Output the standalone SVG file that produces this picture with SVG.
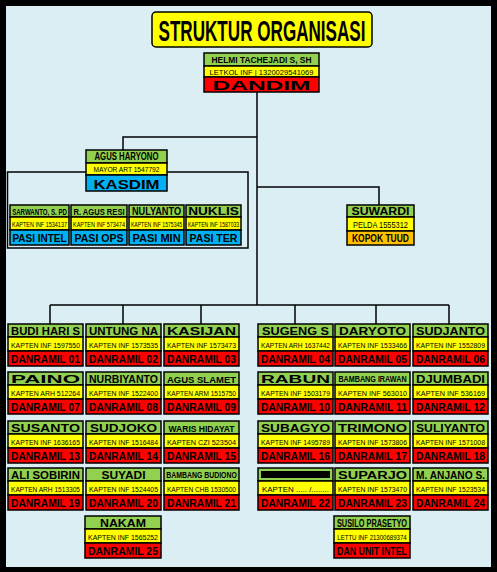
<svg xmlns="http://www.w3.org/2000/svg" width="497" height="572" viewBox="0 0 497 572">
<style>
.bg{fill:#000}
.in{fill:#dbeef4}
.c{fill:#92d050;stroke:#000;stroke-width:1.5}
.y{fill:#ffff00;stroke:#000;stroke-width:1.5}
.r{fill:#ff0000;stroke:#000;stroke-width:1.5}
.b{fill:#00b0f0;stroke:#000;stroke-width:1.5}
.o{fill:#ffc000;stroke:#000;stroke-width:1.5}
.ln{fill:none;stroke:#000;stroke-width:1.5}
text{font-family:"Liberation Sans",Arial,sans-serif;fill:#000;text-anchor:middle}
.n{font-size:10px;font-weight:bold}
.k{font-size:7.5px}
.p{font-size:11px;font-weight:bold}
.t{font-size:30px;font-weight:bold}
</style>
<rect class="bg" x="0" y="0" width="497" height="572"/>
<rect class="in" x="6" y="6" width="485" height="561"/>

<g id="connectors">
<path class="ln" d="M257 92 V305 M257 137 H123 V150 M257 187 H379 V205 M50 305 H449 M50 305 V324 M123 305 V324 M201 305 V324 M295 305 V324 M376 305 V324 M449 305 V324"/>
<rect class="ln" x="7.5" y="172" width="240.5" height="76"/>
</g>

<g id="title">
<rect x="152" y="12" width="220" height="35" rx="4" fill="#ffff00" stroke="#000" stroke-width="1.5"/>
<text class="t" x="0" y="0" transform="translate(262,41) scale(0.57,1)">STRUKTUR ORGANISASI</text>
</g>

<g id="dandim">
<rect class="c" x="204" y="53" width="115" height="13"/>
<rect class="y" x="204" y="66" width="115" height="11"/>
<rect class="r" x="204" y="77" width="115" height="15"/>
<text class="n" x="261.5" y="63" style="font-size:9px" textLength="100" lengthAdjust="spacingAndGlyphs">HELMI TACHEJADI S, SH</text>
<text class="k" x="261.5" y="75" style="font-size:8px" textLength="104" lengthAdjust="spacingAndGlyphs">LETKOL INF | 1320029541069</text>
<text class="p" x="261.5" y="89.5" style="font-size:13px" textLength="98" lengthAdjust="spacingAndGlyphs">DANDIM</text>
</g>

<g id="kasdim">
<rect class="c" x="86" y="150" width="81" height="13"/>
<rect class="y" x="86" y="163" width="81" height="12"/>
<rect class="b" x="86" y="175" width="81" height="16"/>
<text class="n" x="126.5" y="160" textLength="64" lengthAdjust="spacingAndGlyphs">AGUS HARYONO</text>
<text class="k" x="126.5" y="172" style="font-size:7px" textLength="66" lengthAdjust="spacingAndGlyphs">MAYOR ART 1547792</text>
<text class="p" x="126.5" y="188.5" style="font-size:13px" textLength="66" lengthAdjust="spacingAndGlyphs">KASDIM</text>
</g>

<g id="pasi-intel">
<rect class="c" x="10" y="205" width="59" height="12"/>
<rect class="y" x="10" y="217" width="59" height="13"/>
<rect class="b" x="10" y="230" width="59" height="15"/>
<text class="n" x="0" y="0" style="font-size:8.5px" transform="translate(39.5,214.5) scale(0.72,1)">SARWANTO, S. PD</text>
<text class="k" x="0" y="0" transform="translate(39.5,226.5) scale(0.73,1)">KAPTEN INF 1534137</text>
<text class="p" x="0" y="0" style="font-size:11.5px" transform="translate(39.5,242) scale(0.87,1)">PASI INTEL</text>
</g>
<g id="pasi-ops">
<rect class="c" x="71" y="205" width="56" height="12"/>
<rect class="y" x="71" y="217" width="56" height="13"/>
<rect class="b" x="71" y="230" width="56" height="15"/>
<text class="n" x="0" y="0" style="font-size:9.5px" transform="translate(99,214.5) scale(0.8,1)">R. AGUS RESI</text>
<text class="k" x="0" y="0" transform="translate(99,226.5) scale(0.73,1)">KAPTEN INF 573474</text>
<text class="p" x="0" y="0" style="font-size:11.5px" transform="translate(99,242) scale(0.92,1)">PASI OPS</text>
</g>
<g id="pasi-min">
<rect class="c" x="129" y="205" width="55" height="12"/>
<rect class="y" x="129" y="217" width="55" height="13"/>
<rect class="b" x="129" y="230" width="55" height="15"/>
<text class="n" x="0" y="0" transform="translate(156.5,215) scale(0.92,1)">NULYANTO</text>
<text class="k" x="0" y="0" transform="translate(156.5,226.5) scale(0.68,1)">KAPTEN INF 1575345</text>
<text class="p" x="0" y="0" style="font-size:11.5px" transform="translate(156.5,242) scale(0.96,1)">PASI MIN</text>
</g>
<g id="pasi-ter">
<rect class="c" x="186" y="205" width="55" height="12"/>
<rect class="y" x="186" y="217" width="55" height="13"/>
<rect class="b" x="186" y="230" width="55" height="15"/>
<text class="n" x="0" y="0" style="font-size:10.5px" transform="translate(213.5,215) scale(1.3,1)">NUKLIS</text>
<text class="k" x="0" y="0" transform="translate(213.5,226.5) scale(0.68,1)">KAPTEN INF 1587033</text>
<text class="p" x="0" y="0" style="font-size:11.5px" transform="translate(213.5,242) scale(0.92,1)">PASI TER</text>
</g>

<g id="suwardi">
<rect class="c" x="347" y="205" width="67" height="12"/>
<rect class="y" x="347" y="217" width="67" height="14"/>
<rect class="o" x="347" y="231" width="67" height="14"/>
<text class="n" x="380.5" y="215" textLength="58" lengthAdjust="spacingAndGlyphs">SUWARDI</text>
<text class="k" x="380.5" y="227.5" style="font-size:8.5px" textLength="55" lengthAdjust="spacingAndGlyphs">PELDA 1555312</text>
<text class="p" x="380.5" y="242" style="font-size:10px" textLength="57" lengthAdjust="spacingAndGlyphs">KOPOK TUUD</text>
</g>

<!-- Row 1 -->
<g id="danramil-01">
<rect class="c" x="8" y="324" width="75" height="13"/><rect class="y" x="8" y="337" width="75" height="14"/><rect class="r" x="8" y="351" width="75" height="15"/>
<text class="n" x="45.5" y="334.5" textLength="69" lengthAdjust="spacingAndGlyphs">BUDI HARI S</text>
<text class="k" x="45.5" y="347.5" textLength="69" lengthAdjust="spacingAndGlyphs">KAPTEN INF 1597550</text>
<text class="p" x="45.5" y="363" textLength="69" lengthAdjust="spacingAndGlyphs">DANRAMIL 01</text>
</g>
<g id="danramil-02">
<rect class="c" x="86" y="324" width="75" height="13"/><rect class="y" x="86" y="337" width="75" height="14"/><rect class="r" x="86" y="351" width="75" height="15"/>
<text class="n" x="123.5" y="334.5" textLength="69" lengthAdjust="spacingAndGlyphs">UNTUNG NA</text>
<text class="k" x="123.5" y="347.5" textLength="69" lengthAdjust="spacingAndGlyphs">KAPTEN INF 1573535</text>
<text class="p" x="123.5" y="363" textLength="69" lengthAdjust="spacingAndGlyphs">DANRAMIL 02</text>
</g>
<g id="danramil-03">
<rect class="c" x="164" y="324" width="75" height="13"/><rect class="y" x="164" y="337" width="75" height="14"/><rect class="r" x="164" y="351" width="75" height="15"/>
<text class="n" x="201.5" y="334.5" style="font-size:11px" textLength="69" lengthAdjust="spacingAndGlyphs">KASIJAN</text>
<text class="k" x="201.5" y="347.5" textLength="69" lengthAdjust="spacingAndGlyphs">KAPTEN INF 1573473</text>
<text class="p" x="201.5" y="363" textLength="69" lengthAdjust="spacingAndGlyphs">DANRAMIL 03</text>
</g>
<g id="danramil-04">
<rect class="c" x="258" y="324" width="75" height="13"/><rect class="y" x="258" y="337" width="75" height="14"/><rect class="r" x="258" y="351" width="75" height="15"/>
<text class="n" x="295.5" y="334.5" textLength="67" lengthAdjust="spacingAndGlyphs">SUGENG S</text>
<text class="k" x="295.5" y="347.5" textLength="69" lengthAdjust="spacingAndGlyphs">KAPTEN ARH 1637442</text>
<text class="p" x="295.5" y="363" textLength="69" lengthAdjust="spacingAndGlyphs">DANRAMIL 04</text>
</g>
<g id="danramil-05">
<rect class="c" x="335" y="324" width="75" height="13"/><rect class="y" x="335" y="337" width="75" height="14"/><rect class="r" x="335" y="351" width="75" height="15"/>
<text class="n" x="372.5" y="334.5" textLength="67" lengthAdjust="spacingAndGlyphs">DARYOTO</text>
<text class="k" x="372.5" y="347.5" textLength="69" lengthAdjust="spacingAndGlyphs">KAPTEN INF 1533466</text>
<text class="p" x="372.5" y="363" textLength="69" lengthAdjust="spacingAndGlyphs">DANRAMIL 05</text>
</g>
<g id="danramil-06">
<rect class="c" x="413" y="324" width="75" height="13"/><rect class="y" x="413" y="337" width="75" height="14"/><rect class="r" x="413" y="351" width="75" height="15"/>
<text class="n" x="450.5" y="334.5" textLength="69" lengthAdjust="spacingAndGlyphs">SUDJANTO</text>
<text class="k" x="450.5" y="347.5" textLength="69" lengthAdjust="spacingAndGlyphs">KAPTEN INF 1552809</text>
<text class="p" x="450.5" y="363" textLength="69" lengthAdjust="spacingAndGlyphs">DANRAMIL 06</text>
</g>

<!-- Row 2 -->
<g id="danramil-07">
<rect class="c" x="8" y="372" width="75" height="13"/><rect class="y" x="8" y="385" width="75" height="14"/><rect class="r" x="8" y="399" width="75" height="15"/>
<text class="n" x="45.5" y="382.5" style="font-size:11px" textLength="69" lengthAdjust="spacingAndGlyphs">PAINO</text>
<text class="k" x="45.5" y="395.5" textLength="69" lengthAdjust="spacingAndGlyphs">KAPTEN ARH 512264</text>
<text class="p" x="45.5" y="411" textLength="69" lengthAdjust="spacingAndGlyphs">DANRAMIL 07</text>
</g>
<g id="danramil-08">
<rect class="c" x="86" y="372" width="75" height="13"/><rect class="y" x="86" y="385" width="75" height="14"/><rect class="r" x="86" y="399" width="75" height="15"/>
<text class="n" x="123.5" y="382.5" textLength="69" lengthAdjust="spacingAndGlyphs">NURBIYANTO</text>
<text class="k" x="123.5" y="395.5" textLength="69" lengthAdjust="spacingAndGlyphs">KAPTEN INF 1522400</text>
<text class="p" x="123.5" y="411" textLength="69" lengthAdjust="spacingAndGlyphs">DANRAMIL 08</text>
</g>
<g id="danramil-09">
<rect class="c" x="164" y="372" width="75" height="13"/><rect class="y" x="164" y="385" width="75" height="14"/><rect class="r" x="164" y="399" width="75" height="15"/>
<text class="n" x="201.5" y="382.5" style="font-size:9.5px" textLength="69" lengthAdjust="spacingAndGlyphs">AGUS SLAMET</text>
<text class="k" x="201.5" y="395.5" textLength="69" lengthAdjust="spacingAndGlyphs">KAPTEN ARM 1515750</text>
<text class="p" x="201.5" y="411" textLength="69" lengthAdjust="spacingAndGlyphs">DANRAMIL 09</text>
</g>
<g id="danramil-10">
<rect class="c" x="258" y="372" width="75" height="13"/><rect class="y" x="258" y="385" width="75" height="14"/><rect class="r" x="258" y="399" width="75" height="15"/>
<text class="n" x="295.5" y="382.5" style="font-size:11px" textLength="69" lengthAdjust="spacingAndGlyphs">RABUN</text>
<text class="k" x="295.5" y="395.5" textLength="69" lengthAdjust="spacingAndGlyphs">KAPTEN INF 1503179</text>
<text class="p" x="295.5" y="411" textLength="69" lengthAdjust="spacingAndGlyphs">DANRAMIL 10</text>
</g>
<g id="danramil-11">
<rect class="c" x="335" y="372" width="75" height="13"/><rect class="y" x="335" y="385" width="75" height="14"/><rect class="r" x="335" y="399" width="75" height="15"/>
<text class="n" x="0" y="0" style="font-size:9px" transform="translate(372.5,382) scale(0.8,1)">BAMBANG IRAWAN</text>
<text class="k" x="372.5" y="395.5" textLength="69" lengthAdjust="spacingAndGlyphs">KAPTEN INF 563010</text>
<text class="p" x="372.5" y="411" textLength="69" lengthAdjust="spacingAndGlyphs">DANRAMIL 11</text>
</g>
<g id="danramil-12">
<rect class="c" x="413" y="372" width="75" height="13"/><rect class="y" x="413" y="385" width="75" height="14"/><rect class="r" x="413" y="399" width="75" height="15"/>
<text class="n" x="450.5" y="382.5" textLength="69" lengthAdjust="spacingAndGlyphs">DJUMBADI</text>
<text class="k" x="450.5" y="395.5" textLength="69" lengthAdjust="spacingAndGlyphs">KAPTEN INF 536169</text>
<text class="p" x="450.5" y="411" textLength="69" lengthAdjust="spacingAndGlyphs">DANRAMIL 12</text>
</g>

<!-- Row 3 -->
<g id="danramil-13">
<rect class="c" x="8" y="421" width="75" height="13"/><rect class="y" x="8" y="434" width="75" height="14"/><rect class="r" x="8" y="448" width="75" height="15"/>
<text class="n" x="45.5" y="431.5" textLength="69" lengthAdjust="spacingAndGlyphs">SUSANTO</text>
<text class="k" x="45.5" y="444.5" textLength="69" lengthAdjust="spacingAndGlyphs">KAPTEN INF 1636165</text>
<text class="p" x="45.5" y="460" textLength="69" lengthAdjust="spacingAndGlyphs">DANRAMIL 13</text>
</g>
<g id="danramil-14">
<rect class="c" x="86" y="421" width="75" height="13"/><rect class="y" x="86" y="434" width="75" height="14"/><rect class="r" x="86" y="448" width="75" height="15"/>
<text class="n" x="123.5" y="431.5" textLength="67" lengthAdjust="spacingAndGlyphs">SUDJOKO</text>
<text class="k" x="123.5" y="444.5" textLength="69" lengthAdjust="spacingAndGlyphs">KAPTEN INF 1516484</text>
<text class="p" x="123.5" y="460" textLength="69" lengthAdjust="spacingAndGlyphs">DANRAMIL 14</text>
</g>
<g id="danramil-15">
<rect class="c" x="164" y="421" width="75" height="13"/><rect class="y" x="164" y="434" width="75" height="14"/><rect class="r" x="164" y="448" width="75" height="15"/>
<text class="n" x="0" y="0" style="font-size:9.5px" transform="translate(201.5,431.5) scale(0.9,1)">WARIS HIDAYAT</text>
<text class="k" x="201.5" y="444.5" textLength="69" lengthAdjust="spacingAndGlyphs">KAPTEN CZI 523504</text>
<text class="p" x="201.5" y="460" textLength="69" lengthAdjust="spacingAndGlyphs">DANRAMIL 15</text>
</g>
<g id="danramil-16">
<rect class="c" x="258" y="421" width="75" height="13"/><rect class="y" x="258" y="434" width="75" height="14"/><rect class="r" x="258" y="448" width="75" height="15"/>
<text class="n" x="295.5" y="431.5" textLength="69" lengthAdjust="spacingAndGlyphs">SUBAGYO</text>
<text class="k" x="295.5" y="444.5" textLength="69" lengthAdjust="spacingAndGlyphs">KAPTEN INF 1495789</text>
<text class="p" x="295.5" y="460" textLength="69" lengthAdjust="spacingAndGlyphs">DANRAMIL 16</text>
</g>
<g id="danramil-17">
<rect class="c" x="335" y="421" width="75" height="13"/><rect class="y" x="335" y="434" width="75" height="14"/><rect class="r" x="335" y="448" width="75" height="15"/>
<text class="n" x="372.5" y="431.5" textLength="69" lengthAdjust="spacingAndGlyphs">TRIMONO</text>
<text class="k" x="372.5" y="444.5" textLength="69" lengthAdjust="spacingAndGlyphs">KAPTEN INF 1573806</text>
<text class="p" x="372.5" y="460" textLength="69" lengthAdjust="spacingAndGlyphs">DANRAMIL 17</text>
</g>
<g id="danramil-18">
<rect class="c" x="413" y="421" width="75" height="13"/><rect class="y" x="413" y="434" width="75" height="14"/><rect class="r" x="413" y="448" width="75" height="15"/>
<text class="n" x="450.5" y="431.5" textLength="69" lengthAdjust="spacingAndGlyphs">SULIYANTO</text>
<text class="k" x="450.5" y="444.5" textLength="69" lengthAdjust="spacingAndGlyphs">KAPTEN INF 1571008</text>
<text class="p" x="450.5" y="460" textLength="69" lengthAdjust="spacingAndGlyphs">DANRAMIL 18</text>
</g>

<!-- Row 4 -->
<g id="danramil-19">
<rect class="c" x="8" y="468" width="75" height="13"/><rect class="y" x="8" y="481" width="75" height="14"/><rect class="r" x="8" y="495" width="75" height="15"/>
<text class="n" x="45.5" y="478.5" textLength="69" lengthAdjust="spacingAndGlyphs">ALI SOBIRIN</text>
<text class="k" x="45.5" y="491.5" textLength="69" lengthAdjust="spacingAndGlyphs">KAPTEN ARH 1513305</text>
<text class="p" x="45.5" y="507" textLength="69" lengthAdjust="spacingAndGlyphs">DANRAMIL 19</text>
</g>
<g id="danramil-20">
<rect class="c" x="86" y="468" width="75" height="13"/><rect class="y" x="86" y="481" width="75" height="14"/><rect class="r" x="86" y="495" width="75" height="15"/>
<text class="n" x="123.5" y="478.5" textLength="44" lengthAdjust="spacingAndGlyphs">SUYADI</text>
<text class="k" x="123.5" y="491.5" textLength="69" lengthAdjust="spacingAndGlyphs">KAPTEN INF 1524405</text>
<text class="p" x="123.5" y="507" textLength="69" lengthAdjust="spacingAndGlyphs">DANRAMIL 20</text>
</g>
<g id="danramil-21">
<rect class="c" x="164" y="468" width="75" height="13"/><rect class="y" x="164" y="481" width="75" height="14"/><rect class="r" x="164" y="495" width="75" height="15"/>
<text class="n" x="0" y="0" style="font-size:9px" transform="translate(201.5,478) scale(0.77,1)">BAMBANG BUDIONO</text>
<text class="k" x="201.5" y="491.5" textLength="69" lengthAdjust="spacingAndGlyphs">KAPTEN CHB 1530500</text>
<text class="p" x="201.5" y="507" textLength="69" lengthAdjust="spacingAndGlyphs">DANRAMIL 21</text>
</g>
<g id="danramil-22">
<rect class="c" x="258" y="468" width="75" height="13"/><rect class="y" x="258" y="481" width="75" height="14"/><rect class="r" x="258" y="495" width="75" height="15"/>
<rect x="261" y="471" width="69" height="7" fill="#000"/>
<text class="k" x="295.5" y="491.5" textLength="67" lengthAdjust="spacingAndGlyphs">KAPTEN ..... /........</text>
<text class="p" x="295.5" y="507" textLength="69" lengthAdjust="spacingAndGlyphs">DANRAMIL 22</text>
</g>
<g id="danramil-23">
<rect class="c" x="335" y="468" width="75" height="13"/><rect class="y" x="335" y="481" width="75" height="14"/><rect class="r" x="335" y="495" width="75" height="15"/>
<text class="n" x="372.5" y="478.5" textLength="69" lengthAdjust="spacingAndGlyphs">SUPARJO</text>
<text class="k" x="372.5" y="491.5" textLength="69" lengthAdjust="spacingAndGlyphs">KAPTEN INF 1573470</text>
<text class="p" x="372.5" y="507" textLength="69" lengthAdjust="spacingAndGlyphs">DANRAMIL 23</text>
</g>
<g id="danramil-24">
<rect class="c" x="413" y="468" width="75" height="13"/><rect class="y" x="413" y="481" width="75" height="14"/><rect class="r" x="413" y="495" width="75" height="15"/>
<text class="n" x="450.5" y="478.5" textLength="69" lengthAdjust="spacingAndGlyphs">M. ANJANO S.</text>
<text class="k" x="450.5" y="491.5" textLength="69" lengthAdjust="spacingAndGlyphs">KAPTEN INF 1523534</text>
<text class="p" x="450.5" y="507" textLength="69" lengthAdjust="spacingAndGlyphs">DANRAMIL 24</text>
</g>

<!-- Row 5 -->
<g id="danramil-25">
<rect class="c" x="85" y="516" width="76" height="13"/><rect class="y" x="85" y="529" width="76" height="14"/><rect class="r" x="85" y="543" width="76" height="15"/>
<text class="n" x="123" y="526.5" textLength="46" lengthAdjust="spacingAndGlyphs">NAKAM</text>
<text class="k" x="123" y="539.5" textLength="70" lengthAdjust="spacingAndGlyphs">KAPTEN INF 1565252</text>
<text class="p" x="123" y="555" textLength="70" lengthAdjust="spacingAndGlyphs">DANRAMIL 25</text>
</g>
<g id="dan-unit-intel">
<rect class="c" x="334" y="516" width="76" height="13"/><rect class="y" x="334" y="529" width="76" height="14"/><rect class="r" x="334" y="543" width="76" height="15"/>
<text class="n" x="0" y="0" transform="translate(372,526.5) scale(0.74,1)">SUSILO PRASETYO</text>
<text class="k" x="0" y="0" transform="translate(372,539.5) scale(0.81,1)">LETTU INF 21300689374</text>
<text class="p" x="0" y="0" transform="translate(372,555) scale(0.8,1)">DAN UNIT INTEL</text>
</g>
</svg>
